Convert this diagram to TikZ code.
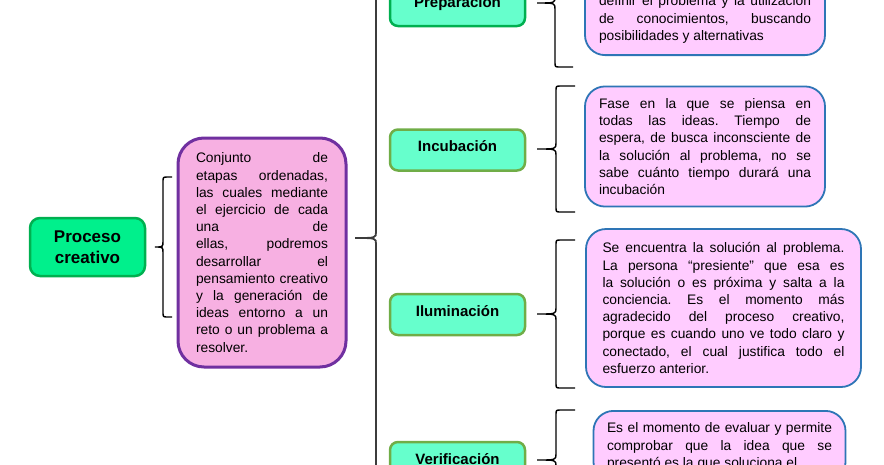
\documentclass[tikz,border=0pt]{standalone}
\usepackage{fontspec}
\setmainfont{Liberation Sans}
\frenchspacing
\definecolor{procfill}{RGB}{0,240,140}
\definecolor{procborder}{RGB}{0,176,80}
\definecolor{descfill}{RGB}{247,176,226}
\definecolor{descborder}{RGB}{112,48,160}
\definecolor{stagefill}{RGB}{102,255,204}
\definecolor{stageborder}{RGB}{112,173,71}
\definecolor{infofill}{RGB}{255,204,255}
\definecolor{infoborder}{RGB}{46,117,182}
\newcommand\curlyb[7][]{% xt, xv, xe, yt, ym, yb
  \draw[bracestyle,#1] (#4,#5) -- ({#3+5},#5) .. controls (#3,#5) .. (#3,{#5+5})
    -- (#3,{#6-6}) .. controls (#3,#6) .. (#2,#6)
    .. controls (#3,#6) .. (#3,{#6+6})
    -- (#3,{#7-5}) .. controls (#3,#7) .. ({#3+5},#7) -- (#4,#7);}
\begin{document}
\begin{tikzpicture}[x=1pt,y=-1pt,
  bracestyle/.style={draw=black,line width=1.4pt},
  mainbox/.style={draw=procborder,fill=procfill,line width=2.5pt,rounded corners=10pt,
    minimum width=115pt,minimum height=58pt,inner sep=0pt,align=center,
    font=\fontsize{17}{21}\selectfont\bfseries},
  descbox/.style={draw=descborder,fill=descfill,line width=3pt,rounded corners=26pt,
    minimum width=168pt,minimum height=229pt,inner xsep=18pt,inner ysep=0pt,
    text width=132pt,align=justify,font=\fontsize{13.8}{17.2}\selectfont},
  stagebox/.style={draw=procborder,fill=stagefill,line width=2.5pt,rounded corners=8pt,
    minimum width=135pt,minimum height=41pt,inner sep=0pt,text height=11pt,text depth=8pt,
    font=\fontsize{15}{18}\selectfont\bfseries},
  infobox/.style={draw=infoborder,fill=infofill,line width=1.8pt,rounded corners=20pt,
    inner ysep=12pt,align=justify,font=\fontsize{13.8}{17.2}\selectfont},
]
\useasboundingbox (0,0) rectangle (884,464);
\clip (0,0) rectangle (884,464);

\node[mainbox] (proc) at (87.5,247) {Proceso\\creativo};
\node[descbox] (desc) at (262,252.5) {\noindent Conjunto de\linebreak etapas ordenadas,\linebreak las cuales mediante\linebreak el ejercicio de cada\linebreak una de\linebreak ellas, podremos\linebreak desarrollar el\linebreak pensamiento creativo\linebreak y la generación de\linebreak ideas entorno a un\linebreak reto o un problema a\linebreak resolver.};

\node[stagebox] (prep) at (457.5,5.5) {Preparación};
\node[stagebox,draw=stageborder] (incu) at (457.5,150) {Incubación};
\node[stagebox,draw=stageborder] (ilum) at (457.5,314.5) {Iluminación};
\node[stagebox,draw=stageborder] (veri) at (457.5,462.5) {Verificación};

\node[infobox,anchor=south,text width=212pt,inner xsep=14pt] (prepinfo) at (705,56)
  {\par\vspace*{90pt}\noindent definir el problema y la utilización\linebreak de conocimientos, buscando\linebreak posibilidades y alternativas};
\node[infobox,text width=212pt,inner xsep=14pt,minimum height=118pt] (incuinfo) at (705,146.5)
  {\noindent Fase en la que se piensa en\linebreak todas las ideas. Tiempo de\linebreak espera, de busca inconsciente de\linebreak la solución al problema, no se\linebreak sabe cuánto tiempo durará una\linebreak incubación};
\node[infobox,text width=242pt,inner xsep=16.5pt,minimum height=158pt] (iluminfo) at (723.5,308)
  {\noindent Se encuentra la solución al problema.\linebreak La persona “presiente” que esa es\linebreak la solución o es próxima y salta a la\linebreak conciencia. Es el momento más\linebreak agradecido del proceso creativo,\linebreak porque es cuando uno ve todo claro y\linebreak conectado, el cual justifica todo el\linebreak esfuerzo anterior.};
\node[infobox,anchor=north,text width=225pt,inner xsep=13.5pt] (veriinfo) at (719.5,410)
  {\noindent Es el momento de evaluar y permite\linebreak comprobar que la idea que se\linebreak presentó es la que soluciona el\par\vspace*{90pt}};

% braces
\curlyb{155}{163}{172}{177}{247}{317}
\curlyb[draw={rgb,255:red,60;green,60;blue,60},line width=1.8pt]{355}{376}{392}{-60}{238}{530}
\curlyb{537}{555}{573}{-61}{3}{67}
\curlyb{537}{556}{575}{86}{149}{212}
\curlyb{537}{556}{575}{240}{314}{388}
\curlyb{537}{556}{575}{410}{460}{510}
\end{tikzpicture}
\end{document}
